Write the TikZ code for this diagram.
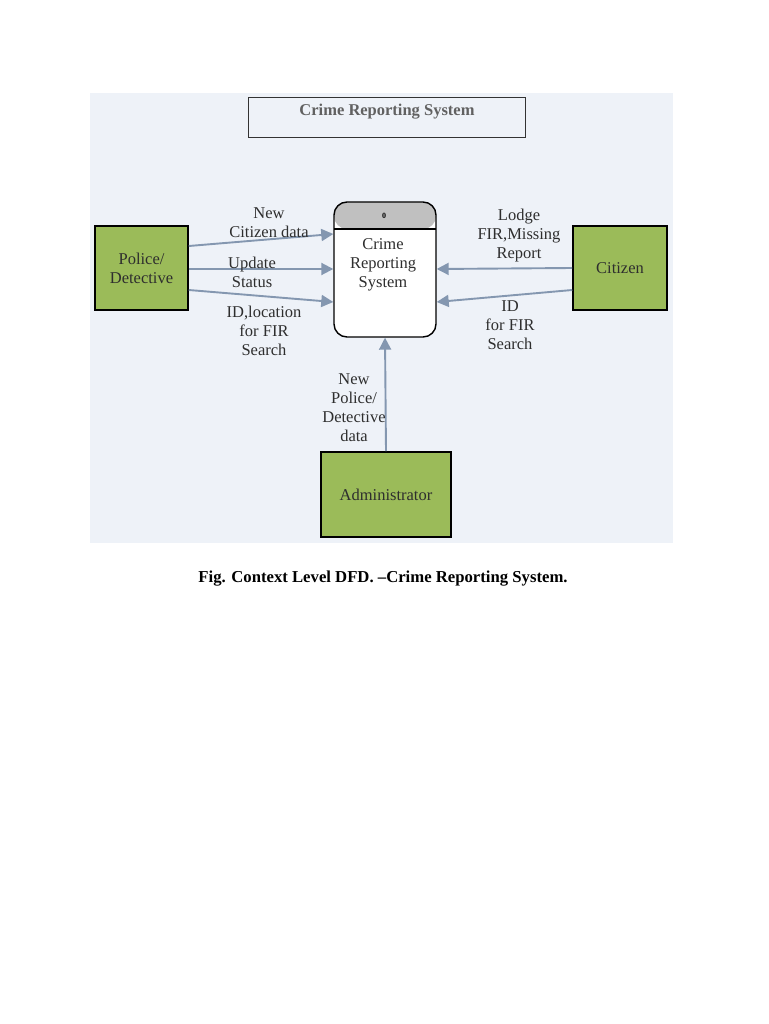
\documentclass[tikz,border=0pt]{standalone}
\usepackage{fontspec}
\setmainfont{Liberation Serif}
\usetikzlibrary{arrows.meta}
\definecolor{panel}{HTML}{EEF2F8}
\definecolor{entitygreen}{HTML}{9BBB59}
\definecolor{flowblue}{HTML}{8497B0}
\definecolor{headgray}{HTML}{C0C0C0}
\definecolor{labelgray}{HTML}{2E2E2E}

\begin{document}
\begin{tikzpicture}[
    x=1pt,
    y=-1pt,
    flow/.style={
        draw=flowblue,
        line width=1.9pt,
        -{Triangle[width=12pt,length=12pt]},
    },
    entity/.style={
        rectangle,
        draw=black,
        line width=1.6pt,
        fill=entitygreen,
        font=\fontsize{16.5}{19}\selectfont,
        text=labelgray,
        align=center,
    },
    process/.style={
        rectangle,
        draw=black,
        line width=1.4pt,
        fill=white,
        rounded corners=13pt,
        minimum width=102pt,
        minimum height=135pt,
        path picture={
            \fill[headgray] (path picture bounding box.north west) rectangle
                ([yshift=-27pt]path picture bounding box.north east);
            \draw[line width=1.2pt] ([yshift=-27pt]path picture bounding box.north west) --
                ([yshift=-27pt]path picture bounding box.north east);
        },
    },
    flowlabel/.style={
        align=center,
        text=labelgray,
        font=\fontsize{16.5}{19}\selectfont,
        inner sep=0pt,
    },
]
    \useasboundingbox[fill=white] (0,0) rectangle (768,1024);
    \fill[panel] (90,93) rectangle (673,543);

    % title
    \node[draw=black!80, line width=0.8pt, minimum width=277pt, minimum height=40pt] (title) at (386.5,117) {};
    \node[text=black!62, font=\fontsize{16.5}{18}\selectfont\bfseries, inner sep=0pt] (titletext) at (387,112) {Crime Reporting System};

    % entities and process
    \node[entity, minimum width=93pt, minimum height=84pt] (police) at (141.5,268) {Police/\\Detective};
    \node[entity, minimum width=94pt, minimum height=84pt] (citizen) at (620,268) {Citizen};
    \node[entity, minimum width=130pt, minimum height=85pt] (admin) at (386,494.5) {Administrator};
    \node[process] (proc) at (385,269.5) {};
    \node[font=\fontsize{8}{8}\selectfont\bfseries, inner sep=0pt] (procid) at (384,216) {0};
    \node[flowlabel] (procname) at (383,264.5) {Crime\\Reporting\\System};

    % data flows
    \draw[flow] ([yshift=22pt]police.east)  -- ([yshift=35.5pt]proc.west);
    \draw[flow] ([yshift=-1pt]police.east)  -- ([yshift=0.5pt]proc.west);
    \draw[flow] ([yshift=-22pt]police.east) -- ([yshift=-32.5pt]proc.west);
    \draw[flow] (citizen.west)              -- ([yshift=0.5pt]proc.east);
    \draw[flow] ([yshift=-22pt]citizen.west) -- ([yshift=-32.5pt]proc.east);
    \draw[flow] (admin.north)               -- (proc.south);

    % flow labels
    \node[flowlabel] (newcit)   at (269,222.5) {New\\Citizen data};
    \node[flowlabel] (update)   at (252,272.5) {Update\\Status};
    \node[flowlabel] (idloc)    at (264,330.5) {ID,location\\for FIR\\Search};
    \node[flowlabel] (lodge)    at (519,235.5) {Lodge\\FIR,Missing\\Report};
    \node[flowlabel] (idfir)    at (510,325.5) {ID\\for FIR\\Search};
    \node[flowlabel] (newpol)   at (354,407.5) {New\\Police/\\Detective\\data};

    % caption
    \node[font=\fontsize{16.7}{19}\selectfont\bfseries, inner sep=0pt] (caption) at (383,578.5) {Fig. Context Level DFD. --Crime Reporting System.};
\end{tikzpicture}
\end{document}
